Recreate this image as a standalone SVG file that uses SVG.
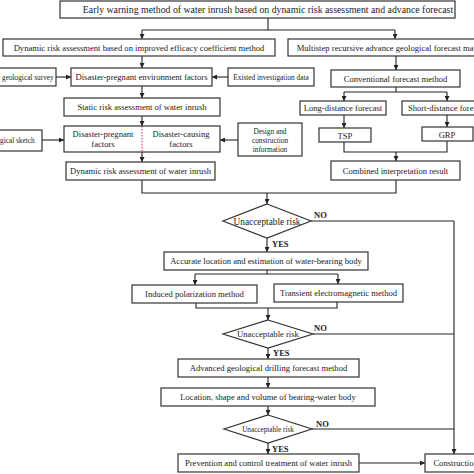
<svg xmlns="http://www.w3.org/2000/svg" width="474" height="474" viewBox="0 0 474 474">
<defs>
<marker id="ah" viewBox="0 0 10 10" refX="10" refY="5" markerWidth="5" markerHeight="5" orient="auto" markerUnits="userSpaceOnUse">
<path d="M0,0 L10,5 L0,10 z" fill="#222"/>
</marker>
<style>
.b{fill:#fff;stroke:#333;stroke-width:1.2}
.t{font-family:"Liberation Serif","Times New Roman",serif;font-size:8.6px;fill:#222;text-anchor:middle}
.s{font-size:7.3px}
.l{text-anchor:start}
.e{text-anchor:end}
.k{font-weight:bold;text-anchor:start;font-size:8.5px}
.c{fill:none;stroke:#222;stroke-width:1.1}
.a{fill:none;stroke:#222;stroke-width:1.1;marker-end:url(#ah)}
</style>
</defs>
<rect width="474" height="474" fill="#fff"/>
<g id="connectors">
<path class="c" d="M268,18 V30 M142,30 H395"/>
<path class="a" d="M142,30 V39"/>
<path class="a" d="M395,30 V39"/>
<path class="a" d="M142,56 V68"/>
<path class="a" d="M56,77 H71"/>
<path class="a" d="M228,77 H212"/>
<path class="a" d="M142,86 V98"/>
<path class="a" d="M142,116 V126"/>
<path class="a" d="M42,140 H64"/>
<path class="a" d="M238,140 H220"/>
<path class="a" d="M142,152 V162"/>
<path class="a" d="M396,56 V70"/>
<path class="c" d="M396,87 V92 M344,92 H447"/>
<path class="a" d="M344,92 V101"/>
<path class="a" d="M447,92 V101"/>
<path class="a" d="M344,115 V128"/>
<path class="a" d="M447,115 V127"/>
<path class="c" d="M344,142 V152 H447 V141"/>
<path class="a" d="M396,152 V161"/>
<path class="c" d="M142,180 V193 H396 V180"/>
<path class="a" d="M267,193 V204"/>
<path class="c" d="M311,221 H454"/>
<path class="a" d="M454,221 V454"/>
<path class="a" d="M267,238 V252"/>
<path class="c" d="M267,270 V274 M195,274 H338"/>
<path class="a" d="M195,274 V285"/>
<path class="a" d="M338,274 V284"/>
<path class="c" d="M196,303 V308 H337 V302"/>
<path class="a" d="M268,308 V320"/>
<path class="c" d="M313,334 H454"/>
<path class="a" d="M268,348 V359"/>
<path class="a" d="M268,377 V388"/>
<path class="a" d="M268,406 V415"/>
<path class="c" d="M312,429 H454"/>
<path class="a" d="M268,443 V454"/>
<path class="a" d="M359,463 H425"/>
</g>
<g id="n_top"><rect class="b" x="60" y="1" width="395" height="17"/><text class="t" x="268" y="13" style="font-size:9.8px">Early warning method of water inrush based on dynamic risk assessment and advance forecast</text></g>
<g id="n_dyn"><rect class="b" x="3" y="39" width="272" height="17"/><text class="t" x="139" y="51">Dynamic risk assessment based on improved efficacy coefficient method</text></g>
<g id="n_multi"><rect class="b" x="288" y="39" width="200" height="17"/><text class="t e" x="473.5" y="51">Multistep recursive advance geological forecast ma</text></g>
<g id="n_survey"><rect class="b" x="-5" y="68" width="61" height="18"/><text class="t s l" x="2" y="80">geological survey</text></g>
<g id="n_env"><rect class="b" x="71" y="68" width="141" height="18"/><text class="t" x="141.5" y="80">Disaster-pregnant environment factors</text></g>
<g id="n_exist"><rect class="b" x="228" y="68" width="86" height="18"/><text class="t s" x="271" y="80">Existed investigation data</text></g>
<g id="n_static"><rect class="b" x="64" y="98" width="156" height="18"/><text class="t" x="142" y="110">Static risk assessment of water inrush</text></g>
<g id="n_factors"><rect class="b" x="64" y="126" width="156" height="26"/>
<line x1="142" y1="126" x2="142" y2="152" stroke="#e0204a" stroke-width="1" stroke-dasharray="1.5,1.5"/>
<text class="t" x="103" y="137">Disaster-pregnant</text><text class="t" x="103" y="147">factors</text>
<text class="t" x="181" y="137">Disaster-causing</text><text class="t" x="181" y="147">factors</text></g>
<g id="n_sketch"><rect class="b" x="-5" y="130" width="47" height="21"/><text class="t s l" x="0" y="143">gical sketch</text></g>
<g id="n_design"><rect class="b" x="238" y="123" width="64" height="33"/><text class="t s" x="270" y="134">Design and</text><text class="t s" x="270" y="143">construction</text><text class="t s" x="270" y="152">information</text></g>
<g id="n_dynrisk"><rect class="b" x="66" y="162" width="149" height="18"/><text class="t" x="140.5" y="174">Dynamic  risk assessment of water inrush</text></g>
<g id="n_conv"><rect class="b" x="331" y="70" width="129" height="17"/><text class="t" x="395.5" y="82">Conventional forecast method</text></g>
<g id="n_long"><rect class="b" x="300" y="101" width="86" height="14"/><text class="t" x="343" y="111">Long-distance forecast</text></g>
<g id="n_short"><rect class="b" x="402" y="101" width="85" height="14"/><text class="t e" x="473.5" y="111">Short-distance fore</text></g>
<g id="n_tsp"><rect class="b" x="319" y="128" width="52" height="14"/><text class="t" x="345" y="138.5">TSP</text></g>
<g id="n_grp"><rect class="b" x="422" y="127" width="51" height="14"/><text class="t" x="447" y="137.5">GRP</text></g>
<g id="n_comb"><rect class="b" x="331" y="161" width="129" height="19"/><text class="t" x="395.5" y="174">Combined interpretation result</text></g>
<g id="n_d1"><polygon class="b" points="267,204 311,221 267,238 223,221"/><text class="t" x="267" y="224.5" style="font-size:9.3px">Unacceptable risk</text></g>
<g id="n_acc"><rect class="b" x="164" y="252" width="204" height="18"/><text class="t" x="266" y="264">Accurate location and estimation of water-bearing body</text></g>
<g id="n_ip"><rect class="b" x="132" y="285" width="125" height="18"/><text class="t" x="194.5" y="297">Induced polarization method</text></g>
<g id="n_tem"><rect class="b" x="274" y="284" width="129" height="18"/><text class="t" x="338.5" y="296">Transient electromagnetic method</text></g>
<g id="n_d2"><polygon class="b" points="268,320 313,334 268,348 223,334"/><text class="t" x="268" y="337" style="font-size:8.6px">Unacceptable risk</text></g>
<g id="n_adv"><rect class="b" x="178" y="359" width="181" height="18"/><text class="t" x="268.5" y="371">Advanced geological drilling forecast method</text></g>
<g id="n_loc"><rect class="b" x="161" y="388" width="214" height="18"/><text class="t" x="268" y="400">Location, shape and volume of bearing-water body</text></g>
<g id="n_d3"><polygon class="b" points="268,415 312,429 268,443 224,429"/><text class="t" x="268" y="431.5" style="font-size:7.2px">Unacceptable risk</text></g>
<g id="n_prev"><rect class="b" x="178" y="454" width="181" height="18"/><text class="t" x="268.5" y="466">Prevention and control treatment of water inrush</text></g>
<g id="n_cons"><rect class="b" x="425" y="454" width="60" height="18"/><text class="t e" x="473.5" y="466">Constructio</text></g>
<g id="labels">
<text class="t k" x="314" y="218">NO</text>
<text class="t k" x="272" y="247">YES</text>
<text class="t k" x="314" y="331">NO</text>
<text class="t k" x="273" y="356">YES</text>
<text class="t k" x="316" y="427">NO</text>
<text class="t k" x="272" y="452">YES</text>
</g>
</svg>
